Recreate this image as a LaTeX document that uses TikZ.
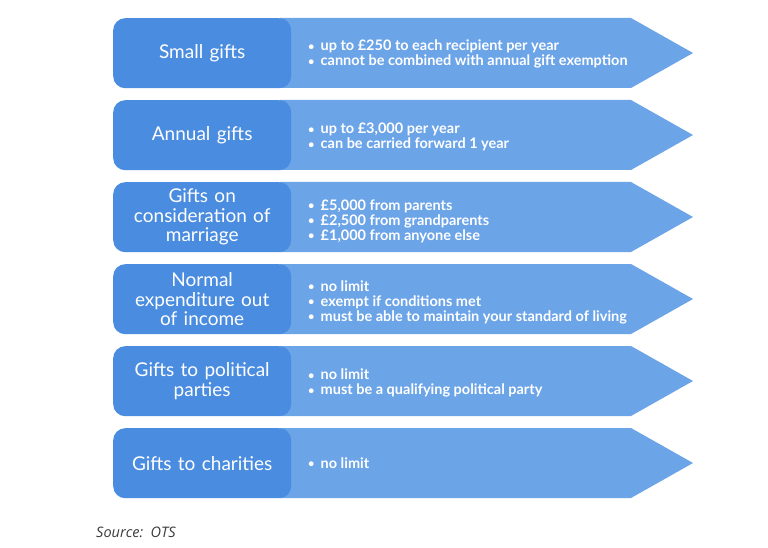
\documentclass[tikz,border=0pt]{standalone}
\usepackage{fontspec}
\setmainfont{Lato}
\newfontfamily\srcfont{Open Sans}
\definecolor{boxblue}{RGB}{74,140,224}
\definecolor{arrowblue}{RGB}{108,164,232}
\definecolor{srcgray}{RGB}{60,60,60}
\tikzset{
  catbox/.style={fill=boxblue, rounded corners=12pt, minimum width=178pt, minimum height=70pt, text width=174pt, align=center, text=white, font=\fontsize{19}{19.5}\selectfont, inner sep=0pt, anchor=north west},
  bullets/.style={anchor=west, text=white, font=\bfseries\fontsize{14.5}{15}\selectfont, align=left, inner sep=0pt},
}
\newcommand{\bitem}[1]{\makebox[12.5pt][l]{\raisebox{0.5pt}{\fontsize{11}{11}\selectfont•}}#1}
\begin{document}
\begin{tikzpicture}[x=1pt,y=-1pt]
\useasboundingbox[fill=white] (0,0) rectangle (768,548);
\foreach \t in {18,100,182,264,346,428}{
  \fill[arrowblue] (280,\t) -- (631,\t) -- (693,\t+35) -- (631,\t+70) -- (280,\t+70) -- cycle;
}
\node[catbox] (c1) at (113,18) {Small gifts};
\node[catbox] (c2) at (113,100) {Annual gifts};
\node[catbox] (c3) at (113,182) {Gifts on\\consideration of\\marriage};
\node[catbox] (c4) at (113,264) {Normal\\expenditure out\\of income};
\node[catbox] (c5) at (113,346) {Gifts to political\\parties};
\node[catbox] (c6) at (113,428) {Gifts to charities};
\node[bullets] (b1) at (308,54) {\bitem{up to £250 to each recipient per year}\\\bitem{cannot be combined with annual gift exemption}};
\node[bullets] (b2) at (308,137) {\bitem{up to £3,000 per year}\\\bitem{can be carried forward 1 year}};
\node[bullets] (b3) at (308,221) {\bitem{£5,000 from parents}\\\bitem{£2,500 from grandparents}\\\bitem{£1,000 from anyone else}};
\node[bullets] (b4) at (308,302) {\bitem{no limit}\\\bitem{exempt if conditions met}\\\bitem{must be able to maintain your standard of living}};
\node[bullets] (b5) at (308,383) {\bitem{no limit}\\\bitem{must be a qualifying political party}};
\node[bullets] (b6) at (308,463) {\bitem{no limit}};
\node[anchor=west, inner sep=0pt, text=srcgray, font=\srcfont\itshape\fontsize{14.5}{16}\selectfont] (src) at (96,532) {Source:\ \ OTS};
\end{tikzpicture}
\end{document}
